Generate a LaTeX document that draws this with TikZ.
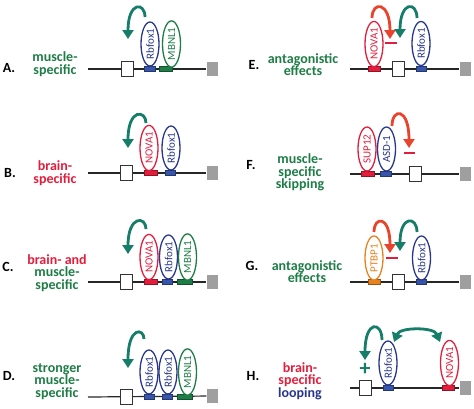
\documentclass[tikz,border=0pt]{standalone}
\usepackage{fontspec}
\setmainfont{Carlito}
\usetikzlibrary{shapes.geometric,arrows.meta}
\definecolor{nred}{RGB}{227,30,60}
\definecolor{ared}{RGB}{232,68,45}
\definecolor{fblue}{RGB}{40,55,140}
\definecolor{sblue}{RGB}{55,85,170}
\definecolor{mgreen}{RGB}{30,125,70}
\definecolor{tgreen}{RGB}{22,125,105}
\definecolor{porange}{RGB}{232,130,30}
\begin{document}
\begin{tikzpicture}[x=1pt,y=-1pt,
    bone/.style={draw=black!85, line width=1.2pt},
    exon/.style={draw=black!80, fill=white, line width=0.8pt, minimum width=12pt, minimum height=15pt, inner sep=0pt},
    endexon/.style={fill=gray!75, minimum width=11pt, minimum height=14pt, inner sep=0pt},
    site/.style={draw=#1!65!black, fill=#1, line width=0.6pt, minimum height=4.5pt, inner sep=0pt},
    prot/.style={ellipse, draw=#1, text=#1, fill=white, line width=1.3pt, rotate=90, minimum width=44pt, minimum height=18pt, inner sep=0pt, font=\fontsize{11}{11}\selectfont},
    tag/.style={font=\fontsize{14}{14}\selectfont\bfseries},
    lbl/.style={font=\fontsize{14}{12.7}\selectfont\bfseries, align=center},
    act/.style={draw=#1, line width=2.8pt, -{Triangle[length=9pt,width=11pt]}},
    block/.style={draw=nred, line width=2pt}]
   \useasboundingbox (0,0) rectangle (474,408);
   % A
   \coordinate (sA) at (88,69);
   \node[endexon] (gA) at (212,69) {};
   \draw[bone] (sA) -- (gA);
   \node[exon] (xA) at (127,69) {};
   \node[site=sblue, minimum width=11pt] (bA1) at (149.5,69) {};
   \node[site=mgreen, minimum width=13pt] (bA2) at (165.5,69) {};
   \node[prot=fblue] (pA1) at (150,44) {Rbfox1};
   \node[prot=mgreen] (pA2) at (171.5,44) {MBNL1};
   \coordinate (uA) at (145,17);
   \coordinate (vA) at (128,39);
   \draw[act=tgreen] (uA) .. controls (145,2) and (128,1) .. (vA);
   \node[tag] (tA) at (9,68) {A.};
   \node[lbl, text=mgreen] (lA) at (55,64.5) {muscle-\\specific};
   % B
   \coordinate (sB) at (88,173);
   \node[endexon] (gB) at (212,173) {};
   \draw[bone] (sB) -- (gB);
   \node[exon] (xB) at (126,173) {};
   \node[site=nred, minimum width=13pt] (bB1) at (150.5,173) {};
   \node[site=sblue, minimum width=10pt] (bB2) at (170,173) {};
   \node[prot=nred] (pB1) at (149,148) {NOVA1};
   \node[prot=fblue] (pB2) at (171,148) {Rbfox1};
   \coordinate (uB) at (146,123);
   \coordinate (vB) at (128,148);
   \draw[act=tgreen] (uB) .. controls (146,110) and (128,108) .. (vB);
   \node[tag] (tB) at (10,173) {B.};
   \node[lbl, text=nred] (lB) at (55,173.5) {brain-\\specific};
   % C
   \coordinate (sC) at (88,282);
   \node[endexon] (gC) at (212,282) {};
   \draw[bone] (sC) -- (gC);
   \node[exon] (xC) at (126,282) {};
   \node[site=nred, minimum width=13pt] (bC1) at (150.5,282) {};
   \node[site=sblue, minimum width=10pt] (bC2) at (167,282) {};
   \node[site=mgreen, minimum width=15pt] (bC3) at (184.5,282) {};
   \node[prot=nred] (pC1) at (149,257) {NOVA1};
   \node[prot=fblue] (pC2) at (168.5,257) {Rbfox1};
   \node[prot=mgreen] (pC3) at (187.5,257) {MBNL1};
   \coordinate (uC) at (146,229);
   \coordinate (vC) at (128,254);
   \draw[act=tgreen] (uC) .. controls (146,216) and (128,215) .. (vC);
   \node[tag] (tC) at (8,267) {C.};
   \node[lbl, text=mgreen] (lC) at (57,273) {{\color{nred}brain- and}\\muscle-\\specific};
   % D
   \coordinate (sD) at (88,397);
   \node[endexon] (gD) at (212,396) {};
   \draw[bone] (sD) -- (gD);
   \node[exon] (xD) at (126,397) {};
   \node[site=sblue, minimum width=10pt] (bD1) at (149,397) {};
   \node[site=sblue, minimum width=10pt] (bD2) at (167,397) {};
   \node[site=mgreen, minimum width=15pt] (bD3) at (184.5,397) {};
   \node[prot=fblue] (pD1) at (149,372) {Rbfox1};
   \node[prot=fblue] (pD2) at (168,372) {Rbfox1};
   \node[prot=mgreen] (pD3) at (187.5,372) {MBNL1};
   \coordinate (uD) at (144,339);
   \coordinate (vD) at (128,368);
   \draw[act=tgreen] (uD) .. controls (144,328) and (128,326) .. (vD);
   \node[tag] (tD) at (9,376) {D.};
   \node[lbl, text=mgreen] (lD) at (57,381.5) {stronger\\muscle-\\specific};
   % E
   \coordinate (sE) at (350,69);
   \node[endexon] (gE) at (465,69) {};
   \draw[bone] (sE) -- (gE);
   \node[exon] (xE) at (398.5,69) {};
   \node[site=nred, minimum width=12pt] (bE1) at (374,69) {};
   \node[site=sblue, minimum width=10pt] (bE2) at (421,69) {};
   \node[prot=nred] (pE1) at (374,44) {NOVA1};
   \node[prot=fblue] (pE2) at (421,43.5) {Rbfox1};
   \coordinate (uE1) at (372,18);
   \coordinate (vE1) at (390,39);
   \coordinate (uE2) at (417,18);
   \coordinate (vE2) at (400,38);
   \draw[act=ared] (uE1) .. controls (372,1) and (390,1) .. (vE1);
   \draw[act=tgreen] (uE2) .. controls (417,1) and (400,1) .. (vE2);
   \coordinate (kE1) at (385,43);
   \coordinate (kE2) at (397,43);
   \draw[block] (kE1) -- (kE2);
   \node[tag] (tE) at (254,65) {E.};
   \node[lbl, text=mgreen] (lE) at (303,64.5) {antagonistic\\effects};
   % F
   \coordinate (sF) at (350,174);
   \node[endexon] (gF) at (465,174) {};
   \draw[bone] (sF) -- (gF);
   \node[exon] (xF) at (415,174) {};
   \node[site=nred, minimum width=13pt] (bF1) at (367.5,174) {};
   \node[site=sblue, minimum width=11pt] (bF2) at (385.5,174) {};
   \node[prot=nred] (pF1) at (367,149) {SUP12};
   \node[prot=fblue] (pF2) at (386.5,149) {ASD-1};
   \coordinate (uF) at (392,126);
   \coordinate (vF) at (409,148);
   \draw[act=ared] (uF) .. controls (392,108) and (409,107) .. (vF);
   \coordinate (kF1) at (404,153);
   \coordinate (kF2) at (415,153);
   \draw[block] (kF1) -- (kF2);
   \node[tag] (tF) at (251,165) {F.};
   \node[lbl, text=mgreen] (lF) at (300,172.5) {muscle-\\specific\\skipping};
   % G
   \coordinate (sG) at (350,282);
   \node[endexon] (gG) at (465,282) {};
   \draw[bone] (sG) -- (gG);
   \node[exon] (xG) at (398.5,282) {};
   \node[site=porange, minimum width=12pt] (bG1) at (374,282) {};
   \node[site=sblue, minimum width=10pt] (bG2) at (421,282) {};
   \node[prot=porange] (pG1) at (374,258) {PTBP1};
   \node[prot=fblue] (pG2) at (421.5,258) {Rbfox1};
   \coordinate (uG1) at (374,232);
   \coordinate (vG1) at (390,253);
   \coordinate (uG2) at (417,232);
   \coordinate (vG2) at (400,251);
   \draw[act=ared] (uG1) .. controls (374,216) and (390,215) .. (vG1);
   \draw[act=tgreen] (uG2) .. controls (417,216) and (400,215) .. (vG2);
   \coordinate (kG1) at (386,258);
   \coordinate (kG2) at (398,258);
   \draw[block] (kG1) -- (kG2);
   \node[tag] (tG) at (252,266) {G.};
   \node[lbl, text=mgreen] (lG) at (307,271.5) {antagonistic\\effects};
   % H
   \coordinate (sH) at (350,388);
   \node[endexon] (gH) at (465,388) {};
   \draw[bone] (sH) -- (gH);
   \node[exon] (xH) at (365,388) {};
   \node[site=sblue, minimum width=10pt] (bH1) at (388,388) {};
   \node[site=nred, minimum width=12pt] (bH2) at (448,388) {};
   \node[prot=fblue] (pH1) at (388,363) {Rbfox1};
   \node[prot=nred] (pH2) at (449.5,363) {NOVA1};
   \coordinate (uH1) at (382,340);
   \coordinate (vH1) at (365,360);
   \draw[act=tgreen] (uH1) .. controls (382,321) and (365,320) .. (vH1);
   \coordinate (uH2) at (394,342);
   \coordinate (vH2) at (440,342);
   \draw[act=tgreen, {Triangle[length=9pt,width=11pt]}-{Triangle[length=9pt,width=11pt]}] (uH2) .. controls (400,327) and (434,327) .. (vH2);
   \node[text=tgreen, font=\fontsize{22}{22}\selectfont\bfseries] (plus) at (365,369) {+};
   \node[tag] (tH) at (253,376) {H.};
   \node[lbl] (lH) at (300,381) {{\color{nred}brain-}\\{\color{nred}specific}\\{\color{fblue}looping}};
 \end{tikzpicture}
\end{document}
